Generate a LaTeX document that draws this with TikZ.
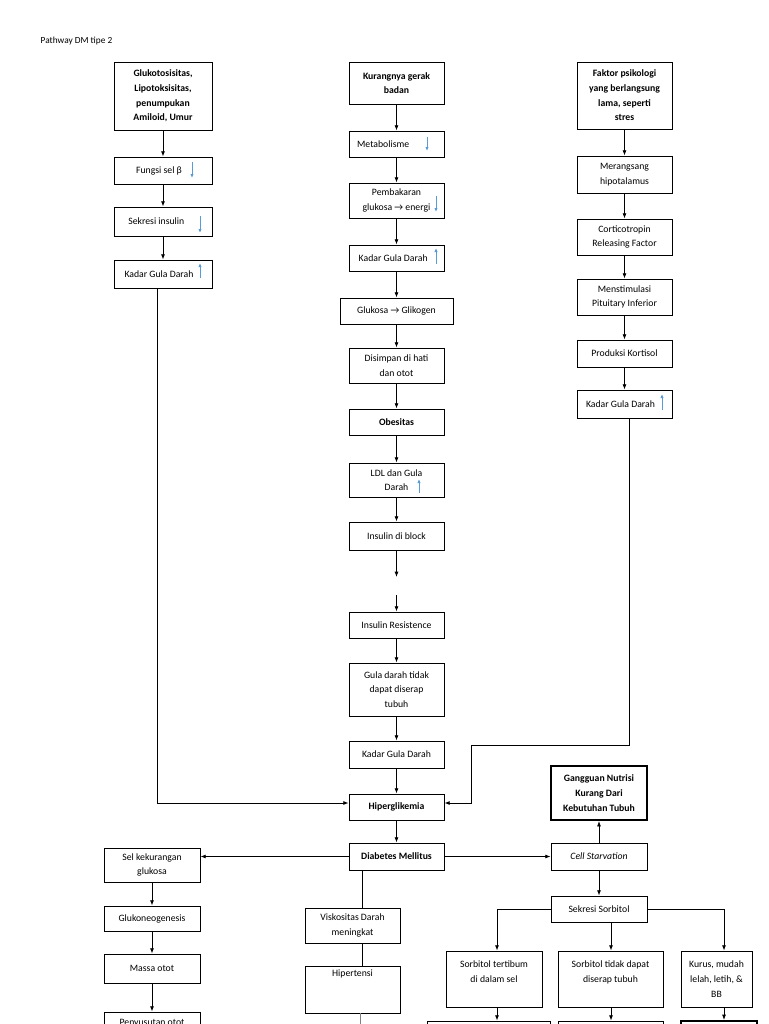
\documentclass[tikz,border=0pt]{standalone}
\usepackage{fontspec}
\setmainfont{Carlito}
\usetikzlibrary{arrows.meta}
\definecolor{ab}{RGB}{91,155,213}
\newcommand\bx[7]{\node[#1,minimum width={(#5-#3)*0.75pt},minimum height={(#6-#4)*0.75pt}] (#2) at ({(#3+#5)/2},{(#4+#6)/2}) {#7};}
\begin{document}
\begin{tikzpicture}[x=0.75pt,y=-0.75pt,
  box/.style={draw,line width=0.6pt,inner sep=0pt,align=center,font=\fontsize{7.3}{11}\selectfont},
  tbox/.style={box,line width=1.6pt},
  ar/.style={-{Latex[length=4pt,width=3pt]},line width=0.6pt},
  ln/.style={line width=0.6pt},
  up/.style={-{Latex[length=3pt,width=2.5pt]},ab,line width=0.7pt}]
\useasboundingbox (0,0) rectangle (768,1024);
\node[anchor=west,font=\fontsize{7}{9}\selectfont] (title) at (36,41) {Pathway DM tipe 2};
% left
\bx{box}{L1}{114}{62}{212}{130}{\bfseries Glukotosisitas,\\\bfseries Lipotoksisitas,\\\bfseries penumpukan\\\bfseries Amiloid, Umur}
\bx{box}{L2}{114}{157}{212}{184}{Fungsi sel β\hspace{6pt}}
\bx{box}{L3}{114}{207}{212}{236}{Sekresi insulin\hspace{10pt}}
\bx{box}{L4}{114}{260}{212}{288}{Kadar Gula Darah\hspace{6pt}}
% middle
\bx{box}{M1}{349}{62}{444}{104}{\bfseries Kurangnya gerak\\\bfseries badan}
\bx{box}{M2}{349}{131}{444}{157}{Metabolisme\hspace{20pt}}
\bx{box}{M3}{349}{183}{444}{218}{Pembakaran\\glukosa → energi\hspace{5pt}}
\bx{box}{M4}{349}{245}{444}{271}{Kadar Gula Darah\hspace{5pt}}
\bx{box}{M5}{340}{298}{453}{324}{Glukosa → Glikogen}
\bx{box}{M6}{349}{348}{444}{383}{Disimpan di hati\\dan otot}
\bx{box}{M7}{349}{409}{444}{435}{\bfseries Obesitas}
\bx{box}{M8}{349}{463}{444}{497}{LDL dan Gula\\Darah\hspace{14pt}}
\bx{box}{M9}{349}{522}{444}{550}{Insulin di block}
\coordinate (g1) at (396.5,577);
\coordinate (g2) at (396.5,595);
\bx{box}{M10}{349}{612}{444}{638}{Insulin Resistence}
\bx{box}{M11}{349}{663}{444}{716}{Gula darah tidak\\dapat diserap\\tubuh}
\bx{box}{M12}{349}{741}{444}{768}{Kadar Gula Darah}
\bx{box}{M13}{349}{794}{444}{820}{\bfseries Hiperglikemia}
\bx{box}{M14}{349}{843}{444}{870}{\bfseries Diabetes Mellitus}
% right
\bx{box}{R1}{577}{62}{672}{129}{\bfseries Faktor psikologi\\\bfseries yang berlangsung\\\bfseries lama, seperti\\\bfseries stres}
\bx{box}{R2}{577}{156}{672}{193}{Merangsang\\hipotalamus}
\bx{box}{R3}{577}{219}{672}{255}{Corticotropin\\Releasing Factor}
\bx{box}{R4}{577}{279}{672}{315}{Menstimulasi\\Pituitary Inferior}
\bx{box}{R5}{577}{340}{672}{367}{Produksi Kortisol}
\bx{box}{R6}{577}{390}{672}{418}{Kadar Gula Darah\hspace{6pt}}
% bottom
\bx{tbox}{G}{551}{766}{647}{820}{\bfseries Gangguan Nutrisi\\\bfseries Kurang Dari\\\bfseries Kebutuhan Tubuh}
\bx{box}{CS}{551}{843}{647}{870}{\itshape Cell Starvation}
\bx{box}{B1}{104}{848}{200}{882}{Sel kekurangan\\glukosa}
\bx{box}{B2}{104}{906}{200}{931}{Glukoneogenesis}
\bx{box}{B3}{104}{954}{200}{983}{Massa otot}
\bx{box}{B4}{104}{1012}{200}{1040}{\raisebox{6pt}{Penyusutan otot}}
\bx{box}{V}{305}{908}{400}{943}{Viskositas Darah\\meningkat}
\bx{box}{H}{305}{966}{400}{1013}{Hipertensi\\[14pt]~}
\coordinate (hend) at (360,1024);
\bx{box}{SS}{551}{896}{647}{922}{Sekresi Sorbitol}
\bx{box}{S1}{446}{951}{542}{1007}{Sorbitol tertibum\\di dalam sel\\~}
\bx{box}{S2}{558}{951}{663}{1007}{Sorbitol tidak dapat\\diserap tubuh\\~}
\bx{box}{S3}{681}{951}{752}{1007}{Kurus, mudah\\lelah, letih, \&\\BB}
\bx{box}{T1}{427}{1021}{550}{1040}{}
\bx{box}{T2}{558}{1021}{663}{1040}{}
\bx{tbox}{T3}{681}{1021}{757}{1040}{}
% arrows left
\draw[ar] (L1) -- (L2);
\draw[ar] (L2) -- (L3);
\draw[ar] (L3) -- (L4);
\draw[ar] (L4.south -| 157,0) -- (157,803) -- (M13.west |- 0,803);
% middle
\draw[ar] (M1) -- (M2);
\draw[ar] (M2) -- (M3);
\draw[ar] (M3) -- (M4);
\draw[ar] (M4) -- (M5);
\draw[ar] (M5) -- (M6);
\draw[ar] (M6) -- (M7);
\draw[ar] (M7) -- (M8);
\draw[ar] (M8) -- (M9);
\draw[ar] (M9) -- (g1);
\draw[ar] (g2) -- (M10);
\draw[ar] (M10) -- (M11);
\draw[ar] (M11) -- (M12);
\draw[ar] (M12) -- (M13);
\draw[ar] (M13) -- (M14);
% right
\draw[ar] (R1) -- (R2);
\draw[ar] (R2) -- (R3);
\draw[ar] (R3) -- (R4);
\draw[ar] (R4) -- (R5);
\draw[ar] (R5) -- (R6);
\draw[ar] (R6.south -| 629,0) -- (629,745) -- (471,745) -- (471,803) -- (M13.east |- 0,803);
% bottom
\draw[ar] (M14) -- (B1.east |- M14);
\draw[ar] (M14) -- (CS);
\draw[ar] (CS) -- (G);
\draw[ar] (B1) -- (B2);
\draw[ar] (B2) -- (B3);
\draw[ar] (B3) -- (B4);
\draw[ln] (M14.south -| 362,0) -- (V.north -| 362,0);
\draw[ln] (V.south -| 362,0) -- (H.north -| 362,0);
\draw[ln,gray] (H.south -| 360,0) -- (hend);
\draw[ar] (CS) -- (SS);
\draw[ar] (SS.west) -- (SS.west -| 497,0) -- (S1.north -| 497,0);
\draw[ar] (SS.south -| 611,0) -- (S2.north -| 611,0);
\draw[ar] (SS.east) -- (SS.east -| 724,0) -- (S3.north -| 724,0);
\draw[ar] (S1.south -| 497,0) -- (T1.north -| 497,0);
\draw[ar] (S2.south -| 611,0) -- (T2.north -| 611,0);
\draw[ar] (S3.south -| 724,0) -- (T3.north -| 724,0);
% blue indicators
\draw[up] (192,162) -- (192,178);
\draw[up] (200,216) -- (200,233);
\draw[up] (200,278) -- (200,263);
\draw[up] (427,137) -- (427,151);
\draw[up] (436,196) -- (436,212);
\draw[up] (436,264) -- (436,248);
\draw[up] (419,493) -- (419,479);
\draw[up] (662,410) -- (662,394);
\end{tikzpicture}
\end{document}
